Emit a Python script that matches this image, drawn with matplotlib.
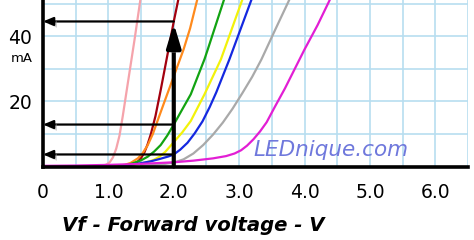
import numpy as np
import matplotlib
matplotlib.use('Agg')
from matplotlib import pyplot as plt
from matplotlib import patheffects as pe

# forward voltage (V) / current (mA), one pair of lists per LED colour
pink_v = [0.0, 0.8, 0.9, 0.97, 1.02, 1.07, 1.12, 1.17, 1.22, 1.3, 1.4, 1.49, 1.51]
pink_i = [0.0, 0.1, 0.2, 0.6, 1.3, 2.8, 5.5, 9.5, 15.5, 26.0, 39.0, 51.4, 54.0]

red_v = [1.2, 1.35, 1.45, 1.5, 1.55, 1.6, 1.65, 1.72, 1.8, 1.9, 2.0, 2.07, 2.09]
red_i = [0.1, 0.5, 1.5, 2.6, 4.3, 6.8, 10.0, 15.5, 23.5, 34.0, 44.6, 51.4, 54.0]

orange_v = [1.1, 1.25, 1.34, 1.45, 1.52, 1.6, 1.68, 1.76, 1.85, 1.95, 2.05, 2.15, 2.25, 2.36, 2.39]
orange_i = [0.1, 0.5, 1.1, 2.5, 4.0, 6.5, 10.0, 14.5, 19.5, 25.0, 30.5, 36.0, 42.5, 51.4, 54.0]

green_v = [1.15, 1.3, 1.39, 1.5, 1.6, 1.7, 1.8, 1.9, 2.0, 2.1, 2.26, 2.47, 2.52, 2.77, 2.81]
green_i = [0.1, 0.5, 1.1, 1.9, 3.0, 4.6, 6.6, 9.5, 12.9, 16.5, 22.2, 33.0, 36.0, 51.4, 54.0]

yellow_v = [1.3, 1.5, 1.6, 1.69, 1.78, 1.87, 2.0, 2.13, 2.26, 2.47, 2.72, 3.05, 3.09]
yellow_i = [0.2, 0.9, 1.4, 2.0, 3.0, 4.5, 7.5, 10.5, 14.0, 22.2, 32.9, 51.4, 54.0]

blue_v = [1.2, 1.35, 1.49, 1.65, 1.8, 1.92, 2.0, 2.1, 2.21, 2.32, 2.44, 2.55, 2.65, 2.85, 3.19, 3.23]
blue_i = [0.1, 0.5, 1.0, 1.6, 2.4, 3.1, 3.7, 5.2, 7.3, 10.2, 13.9, 18.3, 22.8, 32.9, 51.4, 54.0]

gray_v = [1.5, 1.8, 2.0, 2.15, 2.3, 2.45, 2.6, 2.75, 2.9, 3.05, 3.2, 3.34, 3.55, 3.77, 3.81]
gray_i = [0.2, 0.6, 1.2, 2.2, 4.0, 6.6, 9.8, 13.5, 17.8, 22.6, 27.6, 32.9, 42.0, 51.4, 54.0]

magenta_v = [0.0, 0.5, 1.0, 1.5, 2.0, 2.3, 2.6, 2.8, 2.93, 3.03, 3.12, 3.22, 3.32, 3.42, 3.55, 3.7, 4.0, 4.2, 4.39, 4.44]
magenta_i = [0.2, 0.3, 0.5, 0.8, 1.3, 1.8, 2.5, 3.2, 4.0, 5.0, 6.4, 8.4, 10.8, 13.6, 18.5, 24.0, 36.0, 43.5, 51.4, 54.0]

# operating points marked with arrows at Vf = 2.0 V
vf_mark = 2.0
if_marks = [44.6, 12.9, 3.7]

x_labels = ['0', '', '1.0', '', '2.0', '', '3.0', '', '4.0', '', '5.0', '', '6.0', '']
y_labels = ['', '', '20', '', '40', '']

curves = [
    (pink_v, pink_i, '#f5a3ab'),
    (red_v, red_i, '#a3000f'),
    (orange_v, orange_i, '#ff8a1c'),
    (green_v, green_i, '#12a312'),
    (yellow_v, yellow_i, '#f2f20a'),
    (blue_v, blue_i, '#1428e0'),
    (gray_v, gray_i, '#a9a9a9'),
    (magenta_v, magenta_i, '#e21ed4'),
]

fig = plt.figure(figsize=(4.74, 2.40), dpi=100)
ax = fig.add_axes([43 / 474, 1 - 166.5 / 240, 425 / 474, 166.5 / 240])
ax.set_xlim(0, 6.5)
ax.set_ylim(0, 51.2)

ax.set_xticks(np.arange(0, 6.51, 0.5))
ax.set_xticklabels(x_labels)
ax.set_yticks(np.arange(0, 51, 10))
ax.set_yticklabels(y_labels)
ax.tick_params(length=0, labelsize=13.5)
ax.tick_params(axis='x', pad=12)
ax.tick_params(axis='y', pad=8)
ax.grid(True, color='#b8def0', lw=1.2)
ax.set_axisbelow(True)

for s in ['top', 'right']:
    ax.spines[s].set_visible(False)
for s in ['left', 'bottom']:
    ax.spines[s].set_linewidth(2.6)
    ax.spines[s].set_zorder(5)

for v, i, c in curves:
    ax.plot(v, i, color=c, lw=1.6, solid_capstyle='round', solid_joinstyle='round', zorder=3)

shadow = [pe.withSimplePatchShadow(offset=(2, -2), shadow_rgbFace='#999999', alpha=0.45)]

for cur in if_marks:
    ax.annotate('', xy=(0.0, cur), xytext=(vf_mark, cur),
                arrowprops=dict(arrowstyle='-|>,head_length=0.6,head_width=0.25',
                                color='black', lw=1.6, shrinkA=0, shrinkB=0,
                                path_effects=shadow),
                zorder=6, annotation_clip=False)

ax.annotate('', xy=(vf_mark, 44.0), xytext=(vf_mark, 0),
            arrowprops=dict(arrowstyle='-|>,head_length=1.4,head_width=0.42',
                            color='black', lw=3.0, shrinkA=0, shrinkB=0,
                            path_effects=shadow),
            zorder=7)

fig.text(21.5 / 474, 1 - 59 / 240, 'mA', fontsize=9.5, ha='center', va='center')
fig.text(331 / 474, 1 - 150 / 240, 'LEDnique.com', fontsize=15.5, style='italic',
         color='#6f78dc', ha='center', va='center')
fig.text(62 / 474, 1 - 231 / 240, 'Vf - Forward voltage - V', fontsize=14.1,
         weight='bold', style='italic', ha='left', va='baseline')

fig.savefig('out.png', dpi=100)
